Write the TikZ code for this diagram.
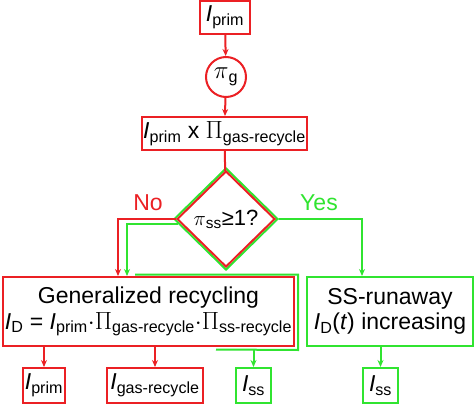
\documentclass[tikz,border=0pt]{standalone}
\usepackage{fontspec}
\setmainfont{Liberation Sans}
\usepackage{tikz}
\usetikzlibrary{shapes.geometric,arrows.meta,calc}
\definecolor{flowred}{RGB}{235,32,36}
\definecolor{flowgreen}{RGB}{48,228,48}
\newcommand{\cur}[1]{\textit{I}\textsubscript{#1}}

\begin{document}
\begin{tikzpicture}[x=1pt, y=-1pt, >={Stealth[length=7pt,width=6pt]}, line width=2pt,
  big/.style={font=\fontsize{23}{25.5}\selectfont},
  small/.style={font=\fontsize{22}{24}\selectfont},
  redbox/.style={draw=flowred, inner sep=0pt, big},
  greenbox/.style={draw=flowgreen, inner sep=0pt, big},
  redarrow/.style={draw=flowred, ->},
  greenarrow/.style={draw=flowgreen, ->}]

\useasboundingbox (0,0) rectangle (474,404);

\node [redbox, minimum width=50pt, minimum height=33pt] (prim) at (225,17.5) {\cur{prim}};
\node [redbox, circle, minimum size=40pt] (pig) at (226,77) {$\pi$\textsubscript{g}};
\node [redbox, minimum width=165pt, minimum height=33pt] (prod) at (224.5,133.5)
  {\cur{prim} x $\Pi$\textsubscript{gas-recycle}};

\node [diamond, draw=flowgreen, minimum width=104pt, minimum height=102pt, inner sep=0pt] (dgreen) at (226,219) {};
\node [diamond, draw=flowred, minimum width=98pt, minimum height=96pt, inner sep=0pt, small] (dec) at (226,219)
  {$\pi$\textsubscript{ss}≥1?};

\node [redbox, minimum width=291pt, minimum height=69pt, align=center] (gen) at (148.5,311.5)
  {Generalized recycling\\\cur{D} = \cur{prim}$\cdot\Pi$\textsubscript{gas-recycle}$\cdot\Pi$\textsubscript{ss-recycle}};
\node [greenbox, minimum width=166pt, minimum height=69pt, align=center] (runaway) at (390,311.5)
  {SS-runaway\\\cur{D}(\textit{t}) increasing};

\foreach \n/\x/\w/\s/\c in {pout/44/42/prim/red, gout/155/96/gas-recycle/red,
                            sout/253.5/35/ss/green, rout/380.5/35/ss/green}
  \node [\c box, minimum width=\w pt, minimum height=35pt] (\n) at (\x,385.5) {\cur{\s}};

\node [big, text=flowred] (no) at (148,203) {No};
\node [big, text=flowgreen] (yes) at (319,203) {Yes};

\coordinate (no-x) at (118,0);
\coordinate (loop-x) at (127,0);
\coordinate (yes-x) at (362,0);
\coordinate (ring-a) at (135,274.5);
\coordinate (ring-b) at (216,349.5);

\draw [redarrow] (prim) -- (pig);
\draw [redarrow] (pig) -- (prod);
\draw [flowred] (prod) -- (dec);

\draw [redarrow] (dec.west) -| (no-x |- gen.north);
\draw [greenarrow] ($(dgreen.west)!0.1!(dgreen.south)$) -| (loop-x |- gen.north);
\draw [greenarrow] (dgreen.east) -| (yes-x |- runaway.north);

\draw [flowgreen] (ring-a) -| ([xshift=3pt, yshift=-3pt]gen.south east) -- (ring-b);
\draw [greenarrow] (ring-b -| sout) -- (sout);

\foreach \n in {pout, gout}
  \draw [redarrow] (gen.south -| \n) -- (\n);
\draw [greenarrow] (runaway.south -| rout) -- (rout);
\end{tikzpicture}
\end{document}
